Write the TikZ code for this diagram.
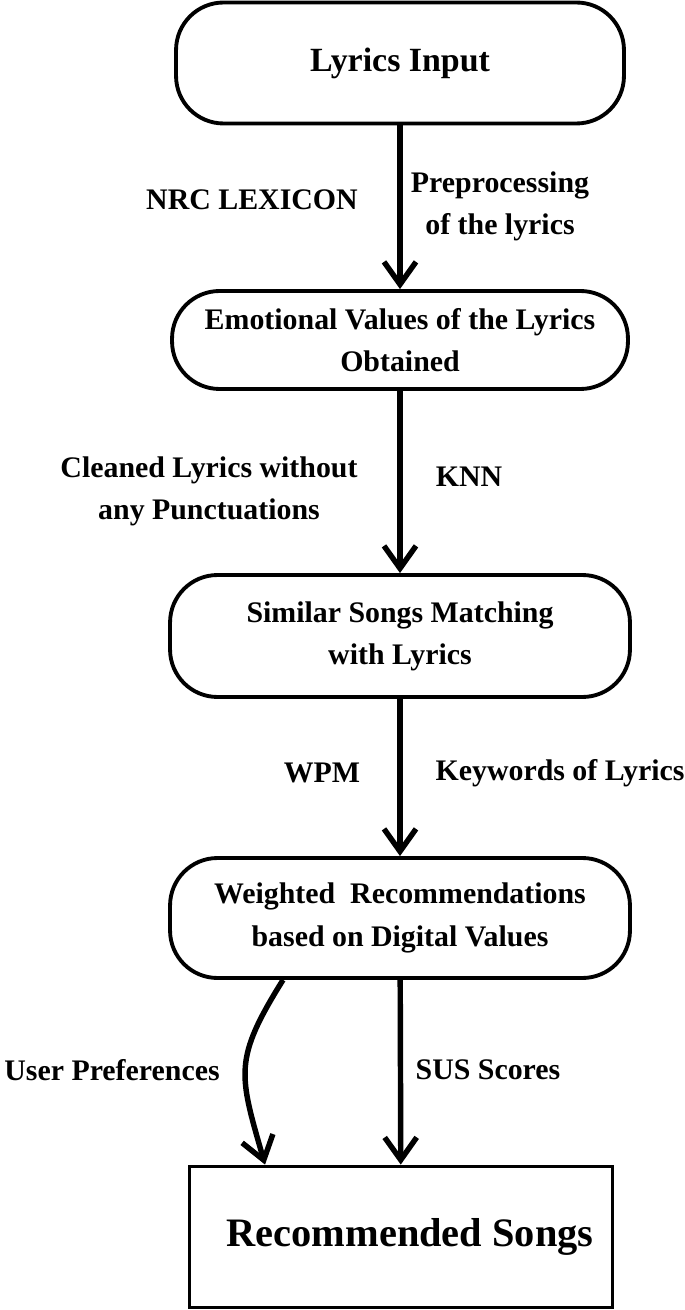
\documentclass[tikz,border=0pt]{standalone}
\usepackage{fontspec}
\setmainfont{Liberation Serif}
\usetikzlibrary{arrows.meta,positioning}

\begin{document}
\begin{tikzpicture}[
    x=0.02cm, y=-0.02cm,
    stage/.style={draw, line width=2.2pt, rounded corners=0.95cm, align=center,
                  font=\fontsize{17}{24}\selectfont\bfseries, inner sep=0pt},
    result/.style={draw, line width=2.2pt, align=center,
                   font=\fontsize{23}{27}\selectfont\bfseries, inner sep=0pt},
    lbl/.style={font=\fontsize{17}{24}\selectfont\bfseries, inner sep=0pt},
    flow/.style={line width=3.1pt, -{Straight Barb[length=0.45cm,width=0.64cm]}},
]
\useasboundingbox (0,0) rectangle (685,1310);

% Stages
\node[stage, minimum width=8.96cm, minimum height=2.42cm,
      font=\fontsize{19.3}{24}\selectfont\bfseries] (lyrics) at (400,63) {Lyrics Input};
\node[stage, minimum width=9.12cm, minimum height=1.96cm] (emo) at (400,340)
    {Emotional Values of the Lyrics\\Obtained};
\node[stage, minimum width=9.2cm, minimum height=2.44cm] (similar) at (400,636)
    {Similar Songs Matching\\with Lyrics};
\node[stage, minimum width=9.2cm, minimum height=2.4cm] (weighted) at (400,918)
    {Weighted~~Recommendations\\based on Digital Values};
\node[result, minimum width=8.46cm, minimum height=2.82cm] (recsongs) at (401,1237)
    {\hspace{0.36cm}Recommended Songs};

% Arrow labels
\node[lbl] (nrc) at (252,200) {NRC LEXICON};
\node[lbl, align=center] (prep) at (500,206) {Preprocessing\\of the lyrics};
\node[lbl, align=center] (clean) at (209,491) {Cleaned Lyrics without\\any Punctuations};
\node[lbl] (knn) at (469,477) {KNN};
\node[lbl] (wpm) at (322,773) {WPM};
\node[lbl] (keyw) at (560,773) {Keywords of Lyrics};
\node[lbl] (userpref) at (112,1070) {User Preferences};
\node[lbl] (sus) at (488,1070) {SUS Scores};

% Arrows
\draw[flow] (lyrics) -- (emo);
\draw[flow] (emo) -- (similar);
\draw[flow] (similar) -- (weighted);
\draw[flow] (weighted) -- (recsongs);
\draw[flow] ([xshift=-2.34cm]weighted.south) to[out=238,in=106,looseness=1.3] ([xshift=-2.72cm]recsongs.north);
\end{tikzpicture}
\end{document}
